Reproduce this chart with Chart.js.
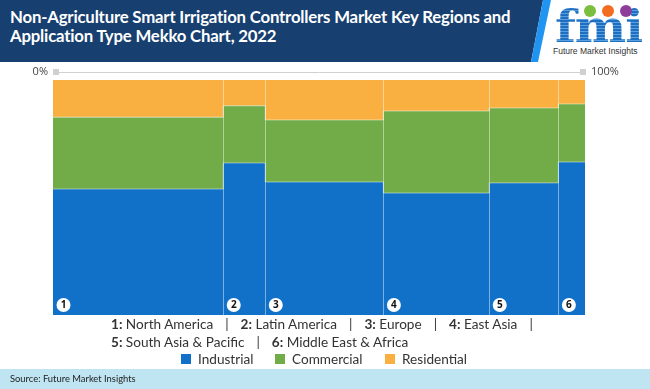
<!DOCTYPE html>
<html>
<head>
<meta charset="utf-8">
<script src="https://cdn.jsdelivr.net/npm/chart.js@4.4.1/dist/chart.umd.min.js"></script>
<style>
  html, body { margin:0; padding:0; background:#fff; }
  body { width:650px; height:389px; position:relative; overflow:hidden; font-family: Lato, "Open Sans", sans-serif; }
  #hdrNavy { position:absolute; left:0; top:0; width:560px; height:62px; background:#173f70;
    clip-path: polygon(0 0, 543px 0, 531px 62px, 0 62px); }
  #hdrStrip { position:absolute; left:0; top:0; width:560px; height:62px; background:linear-gradient(90deg,#1565c0,#2196f3);
    clip-path: polygon(543px 0, 551px 0, 538px 62px, 531px 62px); }
  #title { position:absolute; left:10px; top:7px; color:#fff; font-weight:700; font-size:16.8px; line-height:19px; letter-spacing:-0.2px; white-space:nowrap; }
  #logo { position:absolute; left:553px; top:4px; width:90px; height:56px; }
  #logo .fmi { position:absolute; left:2px; top:1px; font-family:"DejaVu Serif", serif; font-weight:700; font-size:45px; line-height:44px; color:#1f6fc0; letter-spacing:-1px;
    transform: scaleX(1.08); transform-origin: 0 0;
    background: repeating-linear-gradient(180deg, #1f6fc0 0 2px, #5aa0e0 2px 3px); -webkit-background-clip:text; background-clip:text; -webkit-text-fill-color:transparent; }
  #logo .dot { position:absolute; width:12px; height:12px; border-radius:50%; }
  #logo .cap { position:absolute; left:0; top:42px; font-family:"Liberation Sans", sans-serif; font-size:8.5px; color:#333; white-space:nowrap; }
  #chartBox { position:absolute; left:0; top:62px; width:650px; height:258px; }
  #regions { position:absolute; left:111px; top:315px; font-size:13.6px; line-height:18px; color:#333; white-space:nowrap; }
  #regions b { font-weight:700; }
  #regions .sep { display:inline-block; margin:0 12px; }
  #legend { position:absolute; left:0; top:350px; width:650px; font-size:13.6px; color:#333; white-space:nowrap; }
  #legend .item { position:absolute; top:0; line-height:18px; }
  #legend .sw { position:absolute; top:4px; width:10px; height:10px; }
  #footer { position:absolute; left:0; top:369px; width:650px; height:20px; background:#bee5f1; }
  #footer span { position:absolute; left:10px; top:4px; font-size:9.4px; color:#222; font-family:Lato, sans-serif; }
</style>
</head>
<body>
<div id="hdrNavy"></div>
<div id="hdrStrip"></div>
<div id="title">Non-Agriculture Smart Irrigation Controllers Market Key Regions and<br>Application Type Mekko Chart, 2022</div>
<div id="logo">
  <div class="fmi">fmi</div>
  <div class="dot" style="left:31px;top:1px;background:#7cbf3f"></div>
  <div class="dot" style="left:49px;top:1px;background:#f26c22"></div>
  <div class="dot" style="left:67px;top:1px;background:#8e3d9a"></div>
  <div class="cap">Future Market Insights</div>
</div>
<div id="chartBox"><canvas id="c" width="650" height="258"></canvas></div>
<div id="regions"></div>
<div id="legend"></div>
<div id="footer"><span>Source: Future Market Insights</span></div>
<script>
// ---- data ----
const regions = ['North America', 'Latin America', 'Europe', 'East Asia', 'South Asia & Pacific', 'Middle East & Africa'];
const regionShare = [32.0, 7.9, 22.2, 19.9, 13.0, 5.0];   // column widths, % of total
const industrial  = [53.6, 64.7, 56.6, 51.9, 56.2, 65.1];
const commercial  = [30.6, 24.3, 26.4, 34.9, 31.9, 24.7];
const residential = [15.8, 11.0, 17.0, 13.2, 11.9, 10.2];
const seriesNames = ['Industrial', 'Commercial', 'Residential'];
const seriesColors = ['#1170c8', '#72ac48', '#f9b041'];
const axisLabels = ['0%', '100%'];

// ---- derived ----
const starts = [];
let acc = 0;
regionShare.forEach(w => { starts.push(acc); acc += w; });
const total = acc;
function stepData(tops) {
  const pts = tops.map((v, i) => ({ x: starts[i], y: v }));
  pts.push({ x: total, y: tops[tops.length - 1] });
  return pts;
}
const topInd = industrial.slice();
const topCom = industrial.map((v, i) => v + commercial[i]);
const topRes = topCom.map((v, i) => v + residential[i]);

const mekkoPlugin = {
  id: 'mekko',
  afterDatasetsDraw(chart) {
    const { ctx, chartArea: a, scales: { x, y } } = chart;
    ctx.save();
    // separators
    ctx.strokeStyle = 'rgba(255,255,255,0.45)';
    ctx.lineWidth = 1;
    for (let i = 1; i < starts.length; i++) {
      const px = Math.round(x.getPixelForValue(starts[i])) + 0.5;
      ctx.beginPath(); ctx.moveTo(px, a.top); ctx.lineTo(px, a.bottom); ctx.stroke();
    }
    // number badges
    ctx.font = 'bold 10px "Open Sans", sans-serif';
    ctx.textAlign = 'center'; ctx.textBaseline = 'middle';
    for (let i = 0; i < starts.length; i++) {
      const cx = x.getPixelForValue(starts[i]) + 10.5;
      const cy = y.getPixelForValue(0) - 10;
      ctx.fillStyle = '#fff';
      ctx.beginPath(); ctx.arc(cx, cy, 7, 0, Math.PI * 2); ctx.fill();
      ctx.fillStyle = '#111';
      ctx.fillText(String(i + 1), cx, cy + 0.5);
    }
    // top percentage axis
    const ay = a.top - 8;
    const x0 = x.getPixelForValue(0), x1 = x.getPixelForValue(total);
    ctx.fillStyle = '#d0d0d0';
    ctx.fillRect(x0, ay - 3, 6, 6);
    ctx.fillRect(x1 - 5, ay - 3, 6, 6);
    ctx.strokeStyle = '#d0d0d0';
    ctx.beginPath(); ctx.moveTo(x0 + 6, ay + 0.5); ctx.lineTo(x1 - 5, ay + 0.5); ctx.stroke();
    ctx.fillStyle = '#444';
    ctx.font = '11px "Open Sans", sans-serif';
    ctx.textBaseline = 'middle';
    ctx.textAlign = 'right'; ctx.fillText(axisLabels[0], x0 - 5, ay);
    ctx.textAlign = 'left'; ctx.fillText(axisLabels[1], x1 + 6, ay);
    ctx.restore();
  }
};

const mk = (label, data, color, fill, bw) => ({
  label, data, stepped: true, fill, backgroundColor: color,
  borderColor: 'rgba(255,255,255,0.45)', borderWidth: bw, pointRadius: 0, tension: 0
});

new Chart(document.getElementById('c'), {
  type: 'line',
  data: {
    datasets: [
      mk(seriesNames[0], stepData(topInd), seriesColors[0], 'origin', 1),
      mk(seriesNames[1], stepData(topCom), seriesColors[1], '-1', 1),
      mk(seriesNames[2], stepData(topRes), seriesColors[2], '-1', 0)
    ]
  },
  options: {
    responsive: false, animation: false, devicePixelRatio: 1,
    layout: { padding: { left: 53, right: 65, top: 18, bottom: 5 } },
    scales: {
      x: { type: 'linear', min: 0, max: total, display: false },
      y: { type: 'linear', min: 0, max: 100, display: false }
    },
    plugins: { legend: { display: false }, tooltip: { enabled: false } }
  },
  plugins: [mekkoPlugin]
});

// region key
const reg = document.getElementById('regions');
let html = '';
regions.forEach((r, i) => {
  html += '<b>' + (i + 1) + ':</b> ' + r;
  if (i === 3) html += '<span class="sep">|</span><br>';
  else if (i < regions.length - 1) html += '<span class="sep">|</span>';
});
reg.innerHTML = html;

// series legend
const lg = document.getElementById('legend');
const lx = [181, 275, 385];
seriesNames.forEach((n, i) => {
  const it = document.createElement('div');
  it.className = 'item';
  it.style.left = lx[i] + 'px';
  it.innerHTML = '<span class="sw" style="left:0;background:' + seriesColors[i] + '"></span><span style="margin-left:17px">' + n + '</span>';
  lg.appendChild(it);
});
</script>
</body>
</html>
